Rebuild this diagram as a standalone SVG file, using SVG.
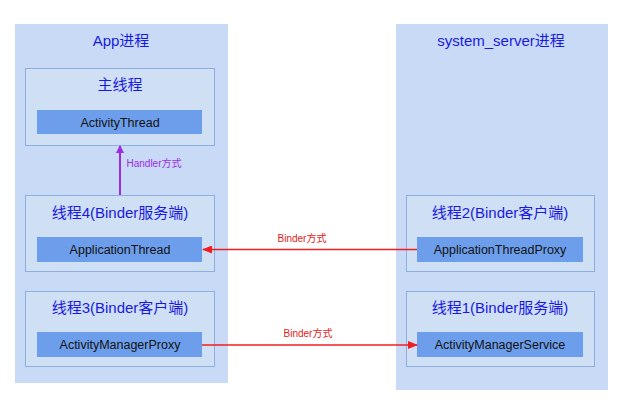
<svg xmlns="http://www.w3.org/2000/svg" width="624" height="400" viewBox="0 0 624 400">
<style>
.proc{fill:#c9daf6}
.th{fill:#cfe0f5;stroke:#8eaee0;stroke-width:1}
.bar{fill:#6d9eeb}
.t1{font-family:"Liberation Sans","Noto Sans CJK SC",sans-serif;font-size:15px;fill:#1a1adf;text-anchor:middle}
.t2{font-family:"Liberation Sans","Noto Sans CJK SC",sans-serif;font-size:12.5px;fill:#111;text-anchor:middle}
.lb{font-family:"Liberation Sans","Noto Sans CJK SC",sans-serif;font-size:10px;text-anchor:middle}
</style>
<defs>
<marker id="ar" markerWidth="10" markerHeight="8" refX="9" refY="4" orient="auto" markerUnits="userSpaceOnUse"><path d="M0,0L10,4L0,8z" fill="#f01e1e"/></marker>
<marker id="ap" markerWidth="8" markerHeight="10" refX="7" refY="4" orient="auto" markerUnits="userSpaceOnUse"><path d="M0,0L8,4L0,8z" fill="#9b2be8"/></marker>
</defs>
<g id="app"><rect class="proc" x="15" y="24" width="213" height="359"/><text class="t1" x="121" y="46">App进程</text></g>
<g id="main"><rect class="th" x="25.5" y="68.5" width="189" height="77"/><text class="t1" x="120" y="90">主线程</text><rect class="bar" x="37" y="110" width="165" height="24"/><text class="t2" x="120" y="127">ActivityThread</text></g>
<g id="t4"><rect class="th" x="25.5" y="195.5" width="189" height="76"/><text class="t1" x="120" y="218">线程4(Binder服务端)</text><rect class="bar" x="37" y="237" width="165" height="25"/><text class="t2" x="120" y="254">ApplicationThread</text></g>
<g id="t3"><rect class="th" x="25.5" y="291.5" width="189" height="75"/><text class="t1" x="120" y="313">线程3(Binder客户端)</text><rect class="bar" x="37" y="332" width="165" height="25"/><text class="t2" x="120" y="349">ActivityManagerProxy</text></g>
<g id="sys"><rect class="proc" x="396" y="24" width="212" height="366"/><text class="t1" x="501" y="46">system_server进程</text></g>
<g id="t2"><rect class="th" x="406.5" y="195.5" width="188" height="76"/><text class="t1" x="500" y="218">线程2(Binder客户端)</text><rect class="bar" x="417" y="237" width="166" height="25"/><text class="t2" x="500" y="254">ApplicationThreadProxy</text></g>
<g id="t1"><rect class="th" x="406.5" y="291.5" width="188" height="75"/><text class="t1" x="500" y="313">线程1(Binder服务端)</text><rect class="bar" x="417" y="332" width="166" height="25"/><text class="t2" x="500" y="349">ActivityManagerService</text></g>
<g id="connectors">
<line x1="120" y1="195" x2="120" y2="146" stroke="#9b2be8" stroke-width="2" marker-end="url(#ap)"/>
<text class="lb" x="154" y="167" fill="#9b2be8">Handler方式</text>
<line x1="417" y1="249.5" x2="203" y2="249.5" stroke="#f01e1e" stroke-width="1.5" marker-end="url(#ar)"/>
<text class="lb" x="302" y="242" fill="#e02020">Binder方式</text>
<line x1="202" y1="345" x2="417" y2="345" stroke="#f01e1e" stroke-width="1.5" marker-end="url(#ar)"/>
<text class="lb" x="308" y="337" fill="#e02020">Binder方式</text>
</g>
</svg>
